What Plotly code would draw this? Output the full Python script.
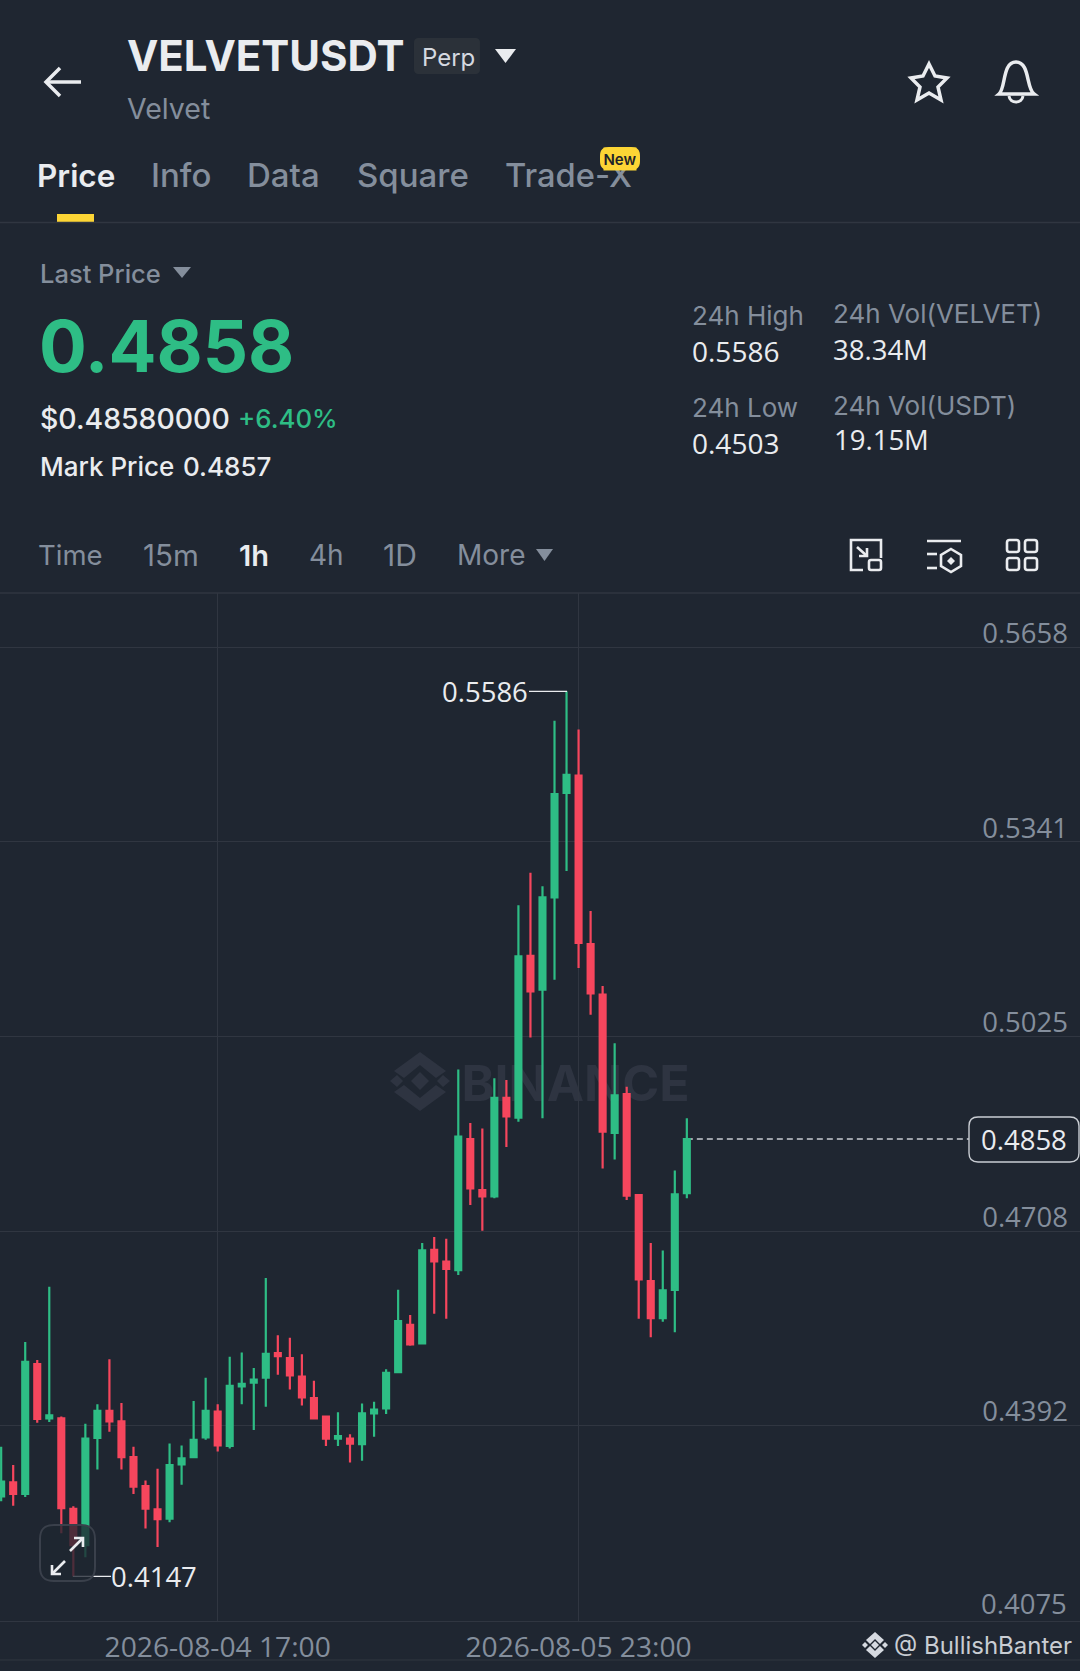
import pandas as pd
import plotly.graph_objects as go

W, H = 1080, 1671
BG = "#1F2631"
GRID = "#303641"
GREEN = "#2EBD85"
RED = "#F6465D"
GRAY = "#848E9C"
WHITE = "#EAECEF"
FONT = "Inter"
DIGITS = "Open Sans"

# ---------- data ----------
SYMBOL = "VELVETUSDT"
times = pd.date_range("2026-08-03 23:00", periods=58, freq="h")
open_ = [.4277,.4300,.4281,.4492,.4404,.4404,.4257,.4198,.4372,.4416,.4399,.4341,.4294,.4256,.4241,.4329,.4341,.4373,.4415,.4359,
         .4456,.4462,.4470,.4510,.4502,.4472,.4437,.4407,.4371,.4371,.4362,.4412,.4420,.4479,.4556,.4526,.4678,.4659,.4645,.4858,
         .4775,.4765,.4925,.4893,.5156,.5101,.5251,.5421,.5449,.5175,.5093,.4868,.4931,.4767,.4627,.4567,.4613,.4770]
high = [.4358,.4328,.4528,.4499,.4618,.4407,.4261,.4395,.4427,.4500,.4429,.4358,.4303,.4322,.4363,.4360,.4432,.4470,.4427,.4504,
        .4511,.4486,.4632,.4539,.4535,.4508,.4465,.4408,.4414,.4378,.4428,.4431,.4484,.4613,.4572,.4689,.4699,.4696,.4971,.4884,
        .4875,.4957,.4954,.5238,.5291,.5269,.5538,.5586,.5524,.5229,.5107,.5014,.4943,.4767,.4689,.4677,.4807,.4892]
low = [.4269,.4262,.4276,.4397,.4398,.4217,.4147,.4178,.4321,.4382,.4321,.4281,.4225,.4195,.4235,.4296,.4341,.4369,.4350,.4355,
       .4427,.4385,.4423,.4475,.4451,.4425,.4402,.4359,.4359,.4332,.4335,.4374,.4411,.4479,.4522,.4524,.4574,.4566,.4637,.4751,
       .4709,.4762,.4845,.4886,.5023,.4892,.5117,.5294,.5136,.5060,.4810,.4825,.4759,.4566,.4536,.4561,.4544,.4762]
close = [.4301,.4281,.4496,.4403,.4409,.4258,.4198,.4371,.4416,.4399,.4341,.4293,.4257,.4240,.4328,.4339,.4369,.4416,.4360,.4457,
         .4460,.4467,.4509,.4505,.4474,.4438,.4404,.4371,.4375,.4363,.4412,.4418,.4478,.4562,.4524,.4677,.4659,.4647,.4862,.4778,
         .4765,.4925,.4895,.5155,.5098,.5251,.5419,.5450,.5177,.5095,.4870,.4929,.4766,.4630,.4567,.4612,.4768,.4858]
price_ticks = [0.5658, 0.5341, 0.5025, 0.4708, 0.4392, 0.4075]
time_ticks = ["2026-08-04 17:00", "2026-08-05 23:00"]
last_price = 0.4858
high_price = 0.5586
low_price = 0.4147


# ---------- pixel helpers for page furniture ----------
def X(p):
    return p / W


def Y(p):
    return 1 - p / H


def path_of(points, closed=False):
    s = "M" + " L".join(f"{X(a):.5f},{Y(b):.5f}" for a, b in points)
    return s + (" Z" if closed else "")


def rrect(x0, y0, x1, y1, r):
    k = r * 0.3
    pts = [
        f"M{X(x0+r):.5f},{Y(y0):.5f}", f"L{X(x1-r):.5f},{Y(y0):.5f}",
        f"C{X(x1-k):.5f},{Y(y0):.5f} {X(x1):.5f},{Y(y0+k):.5f} {X(x1):.5f},{Y(y0+r):.5f}",
        f"L{X(x1):.5f},{Y(y1-r):.5f}",
        f"C{X(x1):.5f},{Y(y1-k):.5f} {X(x1-k):.5f},{Y(y1):.5f} {X(x1-r):.5f},{Y(y1):.5f}",
        f"L{X(x0+r):.5f},{Y(y1):.5f}",
        f"C{X(x0+k):.5f},{Y(y1):.5f} {X(x0):.5f},{Y(y1-k):.5f} {X(x0):.5f},{Y(y1-r):.5f}",
        f"L{X(x0):.5f},{Y(y0+r):.5f}",
        f"C{X(x0):.5f},{Y(y0+k):.5f} {X(x0+k):.5f},{Y(y0):.5f} {X(x0+r):.5f},{Y(y0):.5f} Z",
    ]
    return " ".join(pts)


shapes, annos = [], []


def add_path(d, color=None, width=0, fill=None, layer="above"):
    shapes.append(dict(type="path", xref="paper", yref="paper", path=d, layer=layer,
                       line=dict(color=color or "rgba(0,0,0,0)", width=width),
                       fillcolor=fill or "rgba(0,0,0,0)"))


def stroke(points, color=WHITE, width=3, closed=False):
    add_path(path_of(points, closed), color=color, width=width)


def tri(x0, x1, y0, y1, fill):
    add_path(path_of([(x0, y0), (x1, y0), ((x0 + x1) / 2, y1)], True), fill=fill)


def text(s, x, y, size, color=GRAY, anchor="left", weight=400, family=FONT):
    annos.append(dict(text=s, x=X(x), y=Y(y), xref="paper", yref="paper", showarrow=False,
                      xanchor=anchor, yanchor="middle",
                      font=dict(family=family, size=size, color=color, weight=weight)))


# ---------- header ----------
stroke([(81, 82), (46, 82)], WHITE, 3.5)
stroke([(60, 68), (46, 82), (60, 96)], WHITE, 3.5)
text(SYMBOL, 125, 56, 42, WHITE, weight=700)
add_path(rrect(414, 38, 480, 74, 5), fill="#2B3139")
text("Perp", 448, 57, 24, "#D5D9E0", "center")
tri(495, 516, 49, 63, WHITE)
text("Velvet", 125, 109, 28.5, GRAY)
# star
star = [(929, 64), (935, 76), (947, 78), (938, 87), (941, 100), (929, 93), (917, 100), (920, 87), (911, 78), (923, 76)]
stroke(star, WHITE, 3.5, True)
# bell
add_path(" ".join([
    f"M{X(999):.5f},{Y(94):.5f}",
    f"C{X(1006):.5f},{Y(88):.5f} {X(1002):.5f},{Y(62):.5f} {X(1016):.5f},{Y(62):.5f}",
    f"C{X(1030):.5f},{Y(62):.5f} {X(1026):.5f},{Y(88):.5f} {X(1034):.5f},{Y(94):.5f} Z",
]), color=WHITE, width=3.5)
add_path(" ".join([
    f"M{X(1009):.5f},{Y(96):.5f}",
    f"C{X(1010):.5f},{Y(104):.5f} {X(1022):.5f},{Y(104):.5f} {X(1023):.5f},{Y(96):.5f}",
]), color=WHITE, width=3)

# tabs
text("Price", 35, 175, 31.5, WHITE, weight=600)
text("Info", 149, 175, 33, GRAY, weight=500)
text("Data", 245, 175, 33, GRAY, weight=500)
text("Square", 355, 175, 33, GRAY, weight=500)
text("Trade-X", 503, 175, 32.7, GRAY, weight=500)
add_path(rrect(600, 147, 640, 170, 9), fill="#FCD535")
annos.append(dict(text="New", x=X(620), y=Y(158.5), xref="paper", yref="paper", showarrow=False,
                  xanchor="center", yanchor="middle", width=32, height=22, bgcolor="#FCD535", borderpad=0,
                  font=dict(family=FONT, size=15, color="#1E2329", weight=600)))
add_path(path_of([(57, 214), (94, 214), (94, 222), (57, 222)], True), fill="#FCD535")
stroke([(0, 222.5), (1080, 222.5)], GRID, 1.5)

# price block
text("Last Price", 38, 273, 25.5, GRAY, weight=500)
tri(173, 191, 267, 278, GRAY)
text(f"{last_price:.4f}", 37, 346, 71, GREEN, weight=700)
text("$0.48580000", 38, 418, 28.4, WHITE, weight=500)
text("+6.40%", 236, 419, 25.8, GREEN, weight=500)
text("Mark Price", 38, 467, 26, WHITE, weight=500)
text("0.4857", 181, 467, 26, WHITE, weight=500)

# 24h stats
text("24h High", 690, 315, 26, GRAY)
text("0.5586", 690, 351, 28, WHITE, family=DIGITS)
text("24h Low", 690, 407, 26, GRAY)
text("0.4503", 690, 443, 28, WHITE, family=DIGITS)
text("24h Vol(VELVET)", 831, 314, 26, GRAY)
text("38.34M", 831, 349, 27.5, WHITE, family=DIGITS)
text("24h Vol(USDT)", 831, 405, 26, GRAY)
text("19.15M", 832, 440, 27.5, WHITE, family=DIGITS)

# interval row
text("Time", 36, 555, 27.5, GRAY)
text("15m", 141, 555, 29.5, GRAY)
text("1h", 237, 555, 29, WHITE, weight=600)
text("4h", 307, 555, 28, GRAY)
text("1D", 381, 555, 30, GRAY)
text("More", 455, 555, 28, GRAY)
tri(536, 553, 549, 561, GRAY)

# toolbar icons
stroke([(863, 570), (851, 570), (851, 540), (881, 540), (881, 558)], WHITE, 2.6)
add_path(rrect(869, 560, 881, 570, 2), color=WHITE, width=2.6)
stroke([(857, 547), (867, 556)], WHITE, 2.6)
stroke([(867, 548), (867, 556), (859, 556)], WHITE, 2.6)
stroke([(927, 541), (961, 541)], WHITE, 2.6)
stroke([(927, 554), (937, 554)], WHITE, 2.6)
stroke([(927, 568), (937, 568)], WHITE, 2.6)
stroke([(951, 549), (961, 555), (961, 566), (951, 572), (941, 566), (941, 555)], WHITE, 2.6, True)
add_path(path_of([(951, 557), (955, 561), (951, 565), (947, 561)], True), fill=WHITE)
for a, b in [(1007, 1019), (1025, 1037)]:
    for c, d in [(540, 552), (558, 570)]:
        add_path(rrect(a, c, b, d, 2.5), color=WHITE, width=2.6)
stroke([(0, 593), (1080, 593)], GRID, 1.5)
stroke([(0, 1660), (1080, 1660)], GRID, 1.2)

# ---------- watermark under the candles ----------
WM = "#2E3441"
for pts in [[(420, 1052), (446, 1071), (436, 1078), (420, 1065), (404, 1078), (394, 1071)],
            [(420, 1111), (446, 1092), (436, 1085), (420, 1098), (404, 1085), (394, 1092)],
            [(420, 1072), (429, 1081), (420, 1090), (411, 1081)],
            [(390, 1081), (397, 1075), (403, 1081), (397, 1087)],
            [(437, 1081), (443, 1075), (450, 1081), (443, 1087)]]:
    add_path(path_of(pts, True), fill=WM, layer="below")
shapes.append(dict(type="rect", xref="paper", yref="paper", x0=X(455), x1=X(696), y0=Y(1103), y1=Y(1058),
                   layer="below", line=dict(width=0), fillcolor="rgba(0,0,0,0)",
                   label=dict(text="BINANCE", textposition="middle center",
                              font=dict(family=FONT, size=50, color=WM, weight=700))))

# ---------- price marks ----------
shapes.append(dict(type="line", xref="x", yref="y", x0=times[-1], x1="2026-08-07 07:27",
                   y0=last_price, y1=last_price, layer="below",
                   line=dict(color="#C9CDD3", width=1.5, dash="6px,4px")))
add_path(rrect(969, 1117, 1079, 1162, 9), color="#C9CDD3", width=1.4, fill=BG)
text(f"{last_price:.4f}", 1024, 1139, 27.5, WHITE, "center", family=DIGITS)

shapes.append(dict(type="line", xref="paper", yref="y", x0=X(529), x1=X(567), y0=high_price, y1=high_price,
                   line=dict(color=WHITE, width=1.2)))
annos.append(dict(text=f"{high_price:.4f}", x=X(530), y=high_price, xref="paper", yref="y", showarrow=False,
                  xanchor="right", yanchor="middle", font=dict(family=DIGITS, size=27.5, color=WHITE)))
shapes.append(dict(type="line", xref="paper", yref="y", x0=X(73), x1=X(111), y0=low_price, y1=low_price,
                   line=dict(color=WHITE, width=1.2)))
annos.append(dict(text=f"{low_price:.4f}", x=X(109), y=low_price, xref="paper", yref="y", showarrow=False,
                  xanchor="left", yanchor="middle", font=dict(family=DIGITS, size=27.5, color=WHITE)))

# bottom price label: the axis drops a label that sits on its own edge
annos.append(dict(text=f"{price_ticks[-1]:.4f}", x=X(1069), y=price_ticks[-1], xref="paper", yref="y",
                  showarrow=False, xanchor="right", yanchor="middle", yshift=17,
                  font=dict(family=DIGITS, size=27.5, color=GRAY)))

# expand button
add_path(rrect(40, 1525, 95, 1581, 14), color="#3A404B", width=2, fill="rgba(31,38,49,0.78)")
stroke([(70, 1551), (83, 1538)], WHITE, 2.6)
stroke([(74, 1538), (83, 1538), (83, 1547)], WHITE, 2.6)
stroke([(65, 1561), (52, 1574)], WHITE, 2.6)
stroke([(52, 1565), (52, 1574), (61, 1574)], WHITE, 2.6)

# author mark
for pts in [[(875, 1632), (884, 1640), (880, 1644), (875, 1639), (870, 1644), (866, 1640)],
            [(875, 1658), (884, 1650), (880, 1646), (875, 1651), (870, 1646), (866, 1650)],
            [(875, 1641), (879, 1645), (875, 1649), (871, 1645)],
            [(862, 1645), (865, 1642), (868, 1645), (865, 1648)],
            [(882, 1645), (885, 1642), (888, 1645), (885, 1648)]]:
    add_path(path_of(pts, True), fill="#D5D9E0")
text("@ BullishBanter", 892, 1645, 24, "#C9CDD3")

# ---------- figure ----------
fig = go.Figure(go.Candlestick(
    x=times, open=open_, high=high, low=low, close=close,
    increasing=dict(line=dict(color=GREEN, width=2.2), fillcolor=GREEN),
    decreasing=dict(line=dict(color=RED, width=2.2), fillcolor=RED),
    whiskerwidth=0, hoverinfo="skip", showlegend=False,
))
fig.update_layout(
    width=W, height=H, autosize=False, margin=dict(l=0, r=0, t=0, b=0),
    paper_bgcolor=BG, plot_bgcolor=BG, showlegend=False, hovermode=False,
    font=dict(family=FONT),
    shapes=shapes, annotations=annos,
    xaxis=dict(type="date", domain=[0, 1], range=["2026-08-03 22:54:14", "2026-08-07 16:41:00"],
               tickmode="array", tickvals=time_ticks, tickformat="%Y-%m-%d %H:%M",
               tickfont=dict(family=DIGITS, size=28.2, color=GRAY), ticks="",
               showgrid=True, gridcolor=GRID, gridwidth=1.2, zeroline=False,
               showline=True, linecolor=GRID, linewidth=1.2,
               rangeslider=dict(visible=False), ticklabelstandoff=1, fixedrange=True),
    yaxis=dict(side="right", domain=[1 - 1620.7 / H, 1 - 593 / H], range=[0.4075, 0.57458],
               tickmode="array", tickvals=price_ticks, tickformat=".4f",
               tickfont=dict(family=DIGITS, size=27.5, color=GRAY), ticks="",
               ticklabelposition="inside", ticklabelshift=-14, ticklabelstandoff=9,
               showgrid=True, gridcolor=GRID, gridwidth=1.2, zeroline=False, showline=False,
               fixedrange=True),
)
fig.write_html("out.html", config=dict(displayModeBar=False),
               post_script="document.body.style.margin='0';document.body.style.overflow='hidden';")
